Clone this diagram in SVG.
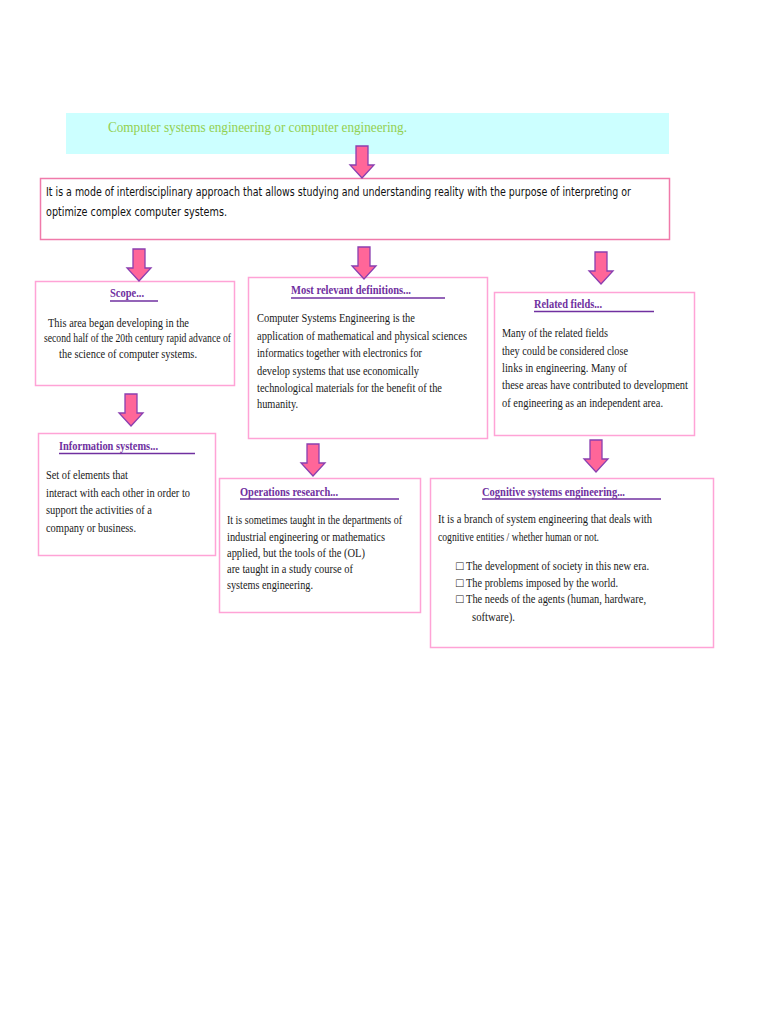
<svg xmlns="http://www.w3.org/2000/svg" xmlns:xlink="http://www.w3.org/1999/xlink" width="768" height="1024" viewBox="0 0 768 1024">
<style>
.box{fill:#ffffff;stroke:#ffa3d6;stroke-width:1.5}
.t{font-family:"Liberation Serif",serif;font-size:12.5px;fill:#1a1a1a}
.s{font-size:11.5px}
.h{font-family:"Liberation Serif",serif;font-size:12.5px;font-weight:bold;fill:#7030a0}
.ul{stroke:#7030a0;stroke-width:1.3}
.arrow{fill:#ff6699;stroke:#8a3fb0;stroke-width:1.3}
.cs{font-family:"DejaVu Sans","Liberation Sans",sans-serif;font-size:11.5px;fill:#111}
</style>
<defs>
<path id="arr" d="M-6,0 H6 V19 H12 L0,32 L-12,19 H-6 Z"/>
</defs>
<rect width="768" height="1024" fill="#ffffff"/>

<g id="title">
<rect x="66" y="113" width="603" height="41" fill="#ccffff"/>
<text x="108" y="132" font-family="Liberation Serif,serif" font-size="14.5" fill="#92d050" textLength="299" lengthAdjust="spacingAndGlyphs">Computer systems engineering or computer engineering.</text>
</g>

<g id="definition">
<rect x="40.5" y="178.5" width="629" height="61" fill="#ffffff" stroke="#f07aaa" stroke-width="1.5"/>
<text class="cs" x="46" y="196" textLength="585" lengthAdjust="spacingAndGlyphs">It is a mode of interdisciplinary approach that allows studying and understanding reality with the purpose of interpreting or</text>
<text class="cs" x="46" y="216" textLength="181" lengthAdjust="spacingAndGlyphs">optimize complex computer systems.</text>
</g>

<g id="scope">
<rect class="box" x="35.5" y="281.5" width="199" height="104"/>
<text class="h" x="110" y="297" textLength="34" lengthAdjust="spacingAndGlyphs">Scope...</text>
<line class="ul" x1="110" y1="301" x2="158" y2="301"/>
<text class="t" x="48" y="327" textLength="141" lengthAdjust="spacingAndGlyphs">This area began developing in the</text>
<text class="t s" x="44" y="342" textLength="187" lengthAdjust="spacingAndGlyphs">second half of the 20th century rapid advance of</text>
<text class="t" x="59" y="358" textLength="138" lengthAdjust="spacingAndGlyphs">the science of computer systems.</text>
</g>

<g id="definitions">
<rect class="box" x="248.5" y="277.5" width="239" height="161"/>
<text class="h" x="291" y="294" textLength="120" lengthAdjust="spacingAndGlyphs">Most relevant definitions...</text>
<line class="ul" x1="291" y1="298" x2="445" y2="298"/>
<text class="t" x="257" y="322" textLength="158" lengthAdjust="spacingAndGlyphs">Computer Systems Engineering is the</text>
<text class="t" x="257" y="340" textLength="210" lengthAdjust="spacingAndGlyphs">application of mathematical and physical sciences</text>
<text class="t" x="257" y="357" textLength="165" lengthAdjust="spacingAndGlyphs">informatics together with electronics for</text>
<text class="t" x="257" y="375" textLength="162" lengthAdjust="spacingAndGlyphs">develop systems that use economically</text>
<text class="t" x="257" y="392" textLength="185" lengthAdjust="spacingAndGlyphs">technological materials for the benefit of the</text>
<text class="t" x="257" y="408" textLength="41" lengthAdjust="spacingAndGlyphs">humanity.</text>
</g>

<g id="related">
<rect class="box" x="494.5" y="292.5" width="200" height="143"/>
<text class="h" x="534" y="308" textLength="68" lengthAdjust="spacingAndGlyphs">Related fields...</text>
<line class="ul" x1="534" y1="311.5" x2="654" y2="311.5"/>
<text class="t" x="502" y="337" textLength="106" lengthAdjust="spacingAndGlyphs">Many of the related fields</text>
<text class="t" x="502" y="355" textLength="126" lengthAdjust="spacingAndGlyphs">they could be considered close</text>
<text class="t" x="502" y="372" textLength="125" lengthAdjust="spacingAndGlyphs">links in engineering. Many of</text>
<text class="t" x="502" y="389" textLength="186" lengthAdjust="spacingAndGlyphs">these areas have contributed to development</text>
<text class="t" x="502" y="407" textLength="161" lengthAdjust="spacingAndGlyphs">of engineering as an independent area.</text>
</g>

<g id="information">
<rect class="box" x="38.5" y="433.5" width="177" height="122"/>
<text class="h" x="59" y="450" textLength="99" lengthAdjust="spacingAndGlyphs">Information systems...</text>
<line class="ul" x1="59" y1="453.5" x2="195" y2="453.5"/>
<text class="t" x="46" y="479" textLength="82" lengthAdjust="spacingAndGlyphs">Set of elements that</text>
<text class="t" x="46" y="497" textLength="144" lengthAdjust="spacingAndGlyphs">interact with each other in order to</text>
<text class="t" x="46" y="514" textLength="106" lengthAdjust="spacingAndGlyphs">support the activities of a</text>
<text class="t" x="46" y="532" textLength="90" lengthAdjust="spacingAndGlyphs">company or business.</text>
</g>

<g id="operations">
<rect class="box" x="219.5" y="478.5" width="201" height="134"/>
<text class="h" x="240" y="496" textLength="98" lengthAdjust="spacingAndGlyphs">Operations research...</text>
<line class="ul" x1="240" y1="499" x2="399" y2="499"/>
<text class="t" x="227" y="524" textLength="175" lengthAdjust="spacingAndGlyphs">It is sometimes taught in the departments of</text>
<text class="t" x="227" y="541" textLength="158" lengthAdjust="spacingAndGlyphs">industrial engineering or mathematics</text>
<text class="t" x="227" y="557" textLength="138" lengthAdjust="spacingAndGlyphs">applied, but the tools of the (OL)</text>
<text class="t" x="227" y="573" textLength="126" lengthAdjust="spacingAndGlyphs">are taught in a study course of</text>
<text class="t" x="227" y="589" textLength="86" lengthAdjust="spacingAndGlyphs">systems engineering.</text>
</g>

<g id="cognitive">
<rect class="box" x="430.5" y="478.5" width="283" height="169"/>
<text class="h" x="482" y="496" textLength="143" lengthAdjust="spacingAndGlyphs">Cognitive systems engineering...</text>
<line class="ul" x1="482" y1="499" x2="661" y2="499"/>
<text class="t" x="438" y="523" textLength="214" lengthAdjust="spacingAndGlyphs">It is a branch of system engineering that deals with</text>
<text class="t s" x="438" y="541" textLength="161" lengthAdjust="spacingAndGlyphs">cognitive entities / whether human or not.</text>
<text class="t" x="456" y="570" font-size="10">□</text>
<text class="t" x="466" y="570" textLength="183" lengthAdjust="spacingAndGlyphs">The development of society in this new era.</text>
<text class="t" x="456" y="587" font-size="10">□</text>
<text class="t" x="466" y="587" textLength="152" lengthAdjust="spacingAndGlyphs">The problems imposed by the world.</text>
<text class="t" x="456" y="603" font-size="10">□</text>
<text class="t" x="466" y="603" textLength="180" lengthAdjust="spacingAndGlyphs">The needs of the agents (human, hardware,</text>
<text class="t" x="472" y="621" textLength="43" lengthAdjust="spacingAndGlyphs">software).</text>
</g>

<g id="connectors">
<use href="#arr" xlink:href="#arr" class="arrow" x="362" y="146"/>
<use href="#arr" xlink:href="#arr" class="arrow" x="139" y="249"/>
<use href="#arr" xlink:href="#arr" class="arrow" x="364" y="247"/>
<use href="#arr" xlink:href="#arr" class="arrow" x="601" y="252"/>
<use href="#arr" xlink:href="#arr" class="arrow" x="131" y="394"/>
<use href="#arr" xlink:href="#arr" class="arrow" x="313" y="444"/>
<use href="#arr" xlink:href="#arr" class="arrow" x="596" y="440"/>
</g>
</svg>
